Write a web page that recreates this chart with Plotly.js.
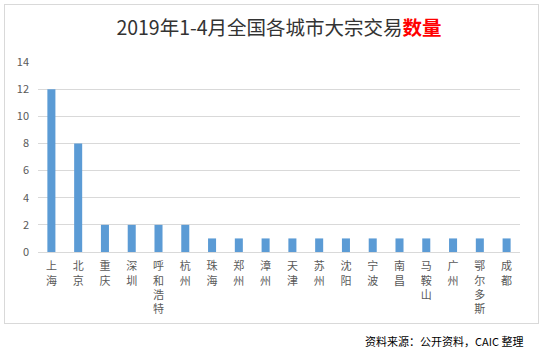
<!DOCTYPE html>
<html>
<head>
<meta charset="utf-8">
<script src="https://cdn.plot.ly/plotly-3.0.1.min.js"></script>
<style>
html,body{margin:0;padding:0;background:#fff;}
#wrap{position:relative;width:544px;height:352px;}
#box{position:absolute;left:4px;top:4px;width:535px;height:320px;border:1px solid #d9d9d9;box-sizing:border-box;}
#chart{position:absolute;left:0;top:0;width:544px;height:352px;}
</style>
</head>
<body>
<div id="wrap"><div id="box"></div><div id="chart"></div></div>
<script>
const cities = ["上海","北京","重庆","深圳","呼和浩特","杭州","珠海","郑州","漳州","天津","苏州","沈阳","宁波","南昌","马鞍山","广州","鄂尔多斯","成都"];
const counts = [12,8,2,2,2,2,1,1,1,1,1,1,1,1,1,1,1,1];
const yTicks = [0,2,4,6,8,10,12,14];

const labels = cities.map(c => c.split("").join("<br>"));
const font = "'Noto Sans CJK SC', 'Noto Sans', sans-serif";

Plotly.newPlot("chart", [{
  type: "bar",
  x: labels,
  y: counts,
  marker: {color: "#5b9bd5"},
  hoverinfo: "x+y"
}], {
  width: 544, height: 352,
  margin: {l: 38, r: 24, t: 62, b: 100},
  paper_bgcolor: "rgba(0,0,0,0)",
  plot_bgcolor: "rgba(0,0,0,0)",
  bargap: 0.7,
  showlegend: false,
  title: {
    text: "2019年1-4月全国各城市大宗交易<span style='color:#ff0000'><b>数量</b></span>",
    font: {family: font, size: 19.5, color: "#333333"},
    x: 0.5, xref: "paper", y: 0.92, yref: "container", yanchor: "middle"
  },
  xaxis: {
    type: "category",
    tickfont: {family: font, size: 11, color: "#595959"},
    showgrid: false,
    showline: true, linecolor: "#d9d9d9", linewidth: 1,
    ticks: "", tickangle: 0, ticklabelstandoff: 4,
    fixedrange: true
  },
  yaxis: {
    range: [0, 14],
    tickvals: yTicks,
    tickfont: {family: font, size: 11, color: "#595959"},
    gridcolor: "#d9d9d9", gridwidth: 1,
    zeroline: false, showline: false, ticks: "",
    ticklabelstandoff: 8,
    fixedrange: true
  },
  annotations: [{
    text: "资料来源：公开资料，CAIC 整理",
    xref: "paper", yref: "paper", x: 1.01, y: -0.47,
    xanchor: "right", yanchor: "middle", showarrow: false,
    font: {family: font, size: 11, color: "#000000"}
  }]
}, {displayModeBar: false, staticPlot: true});
</script>
</body>
</html>
